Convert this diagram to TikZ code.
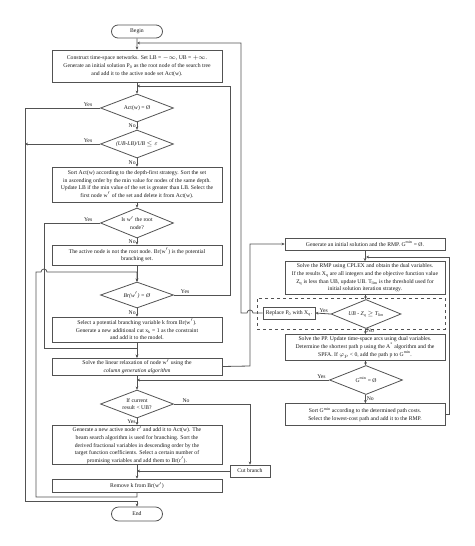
\documentclass[tikz,border=0pt]{standalone}
\usepackage{fontspec}
\setmainfont{Liberation Serif}
\usetikzlibrary{shapes.geometric,shapes.misc,arrows.meta}
\begin{document}
\begin{tikzpicture}[x=1pt,y=-1pt,
  every node/.style={font=\fontsize{5.7}{7.7}\selectfont, text=black!90},
  ln/.style={draw=black!68, line width=0.8pt},
  arr/.style={ln, -{Stealth[length=3pt,width=2.8pt]}},
  proc/.style={ln, rectangle, align=center, inner sep=1pt, minimum width=170pt},
  rproc/.style={ln, rectangle, align=center, inner sep=1pt, minimum width=160pt},
  dec/.style={ln, diamond, aspect=2.6, inner sep=0.5pt, align=center, minimum width=73pt, minimum height=28pt},
  term/.style={ln, rounded rectangle, minimum width=53pt, minimum height=13pt, inner sep=1pt},
  lab/.style={inner sep=1pt}
]
\useasboundingbox (0,0) rectangle (474,546);
% left column
\node[term] (begin) at (137,31.5) {Begin};
\node[proc, minimum height=32pt] (b1) at (137,66) {Construct time-space networks. Set LB = $-\infty$, UB = $+\infty$.\\Generate an initial solution P\textsubscript{0} as the root node of the search tree\\and add it to the active node set Act(w).};
\node[dec] (d1) at (137,108) {Act(w) = Ø};
\node[dec] (d2) at (137,144) {\textit{(UB-LB)/UB} $\leq \varepsilon$};
\node[proc, minimum height=35pt] (b2) at (137,184.5) {Sort Act(w) according to the depth-first strategy. Sort the set\\in ascending order by the min value for nodes of the same depth.\\Update LB if the min value of the set is greater than LB. Select the\\first node w$'$ of the set and delete it from Act(w).};
\node[dec, minimum height=30pt] (d3) at (137,223) {Is w$'$ the root\\node?};
\node[proc, minimum height=20pt] (b3) at (137,255) {The active node is not the root node. Br(w$'$) is the potential\\branching set.};
\node[dec, minimum height=26pt] (d4) at (137,295) {\textit{Br(w$'$) = Ø}};
\node[proc, minimum height=25pt] (b4) at (137,329.5) {Select a potential branching variable k from Br(w$'$).\\Generate a new additional cut x\textsubscript{k} = 1 as the constraint\\and add it to the model.};
\node[proc, minimum height=17pt] (b5) at (137,366.5) {Solve the linear relaxation of node w$'$ using the\\\textit{column generation algorithm}};
\node[dec] (d5) at (137,404) {If current\\result < UB?};
\node[proc, minimum height=36pt] (b6) at (137,445) {Generate a new active node r$'$ and add it to Act(w). The\\beam search algorithm is used for branching. Sort the\\derived fractional variables in descending order by the\\target function coefficients. Select a certain number of\\promising variables and add them to Br(r$'$).};
\node[proc, minimum height=13pt] (b7) at (137,485.5) {Remove k from Br(w$'$)};
\node[term, minimum height=14pt] (end) at (137,514) {End};
\node[ln, rectangle, minimum width=40pt, minimum height=12pt, inner sep=1pt] (cut) at (250,471) {Cut branch};
% right column
\node[rproc, minimum height=12pt] (r1) at (365,244) {Generate an initial solution and the RMP. G\textsuperscript{min} = Ø.};
\node[rproc, minimum height=33pt] (r2) at (365,278) {Solve the RMP using CPLEX and obtain the dual variables.\\If the results X\textsubscript{q} are all integers and the objective function value\\Z\textsubscript{q} is less than UB, update UB. T\textsubscript{lim} is the threshold used for\\initial solution iteration strategy.};
\node[ln, dashed, rectangle, minimum width=188pt, minimum height=31pt] (dbox) at (351,313.5) {};
\node[dec, minimum width=70pt, minimum height=29pt] (d6) at (366,314) {\textit{UB - Z\textsubscript{q} $\geq$ T\textsubscript{lim}}};
\node[ln, rectangle, minimum width=52pt, minimum height=12pt, inner sep=1pt] (rep) at (289,313) {Replace P\textsubscript{0} with X\textsubscript{q}.};
\node[rproc, minimum height=26pt] (r3) at (365,347.5) {Solve the PP. Update time-space arcs using dual variables.\\Determine the shortest path p using the A\textsuperscript{*} algorithm and the\\SPFA. If $\varphi_p$ < 0, add the path p to G\textsuperscript{min}.};
\node[dec, minimum height=29pt] (d7) at (366,380) {G\textsuperscript{min} = Ø};
\node[rproc, minimum height=22pt] (r4) at (365,414.5) {Sort G\textsuperscript{min} according to the determined path costs.\\Select the lowest-cost path and add it to the RMP.};
% left connectors
\draw[arr] (begin) -- (b1);
\draw[arr] (b1) -- (d1);
\draw[arr] (d1.west) -- node[lab,above,pos=0.16]{Yes} (25,108) -- (25,501) -- (137,501) -- (end.north);
\draw[arr] (d1) -- node[lab,left]{No} (d2);
\draw[arr] (d2.west) -- node[lab,above,pos=0.16]{Yes} (25,144);
\draw[arr] (d2) -- node[lab,left]{No} (b2);
\draw[arr] (b2) -- (d3);
\draw[arr] (d3.west) -- node[lab,above,pos=0.21]{Yes} (44,223) -- (44,348) -- (137,348) -- (b5.north);
\draw[arr] (d3) -- node[lab,left]{No} (b3);
\draw[arr] (b3) -- (d4);
\draw[arr] (b7.south) -- (137,497) -- (36,497) -- (36,272) -- (41,272) arc[start angle=180, end angle=0, radius=3pt] -- (137,272) -- (d4.north);
\draw[arr] (d4.east) -- node[lab,above,pos=0.2]{Yes} (230,295) -- (230,86) -- (137,86);
\draw[arr] (d4) -- node[lab,left]{No} (b4);
\draw[arr] (b4) -- (b5);
\draw[arr] (b5) -- (d5);
\draw[arr] (d5) -- node[lab,left]{Yes} (b6);
\draw[arr] (d5.east) -- node[lab,above,pos=0.16]{No} (250,404) -- (cut.north);
\draw[arr] (b6) -- (b7);
\draw[arr] (cut.west) -- (137,471);
\draw[arr] (b5.east) -- (250,366) -- (250,244) -- (r1.west);
% right connectors
\draw[arr] (r1) -- (r2);
\draw[arr] (r4.east) -- (449,414.5) -- (449,257) -- (366,257);
\draw[arr] (r2) -- (d6);
\draw[arr] (d6.west) -- node[lab,above,pos=0.45]{Yes} (rep.east);
\draw[arr] (rep.west) -- (253,313) arc[start angle=0, end angle=180, radius=3pt] -- (241,313) -- (241,43) -- (137,43);
\draw[arr] (d6) -- node[lab,right,pos=0.45]{No} (r3);
\draw[arr] (r3) -- (d7);
\draw[arr] (d7.west) -- node[lab,above,pos=0.04]{Yes} (137,380);
\draw[arr] (d7) -- node[lab,right]{No} (r4);
\end{tikzpicture}
\end{document}
